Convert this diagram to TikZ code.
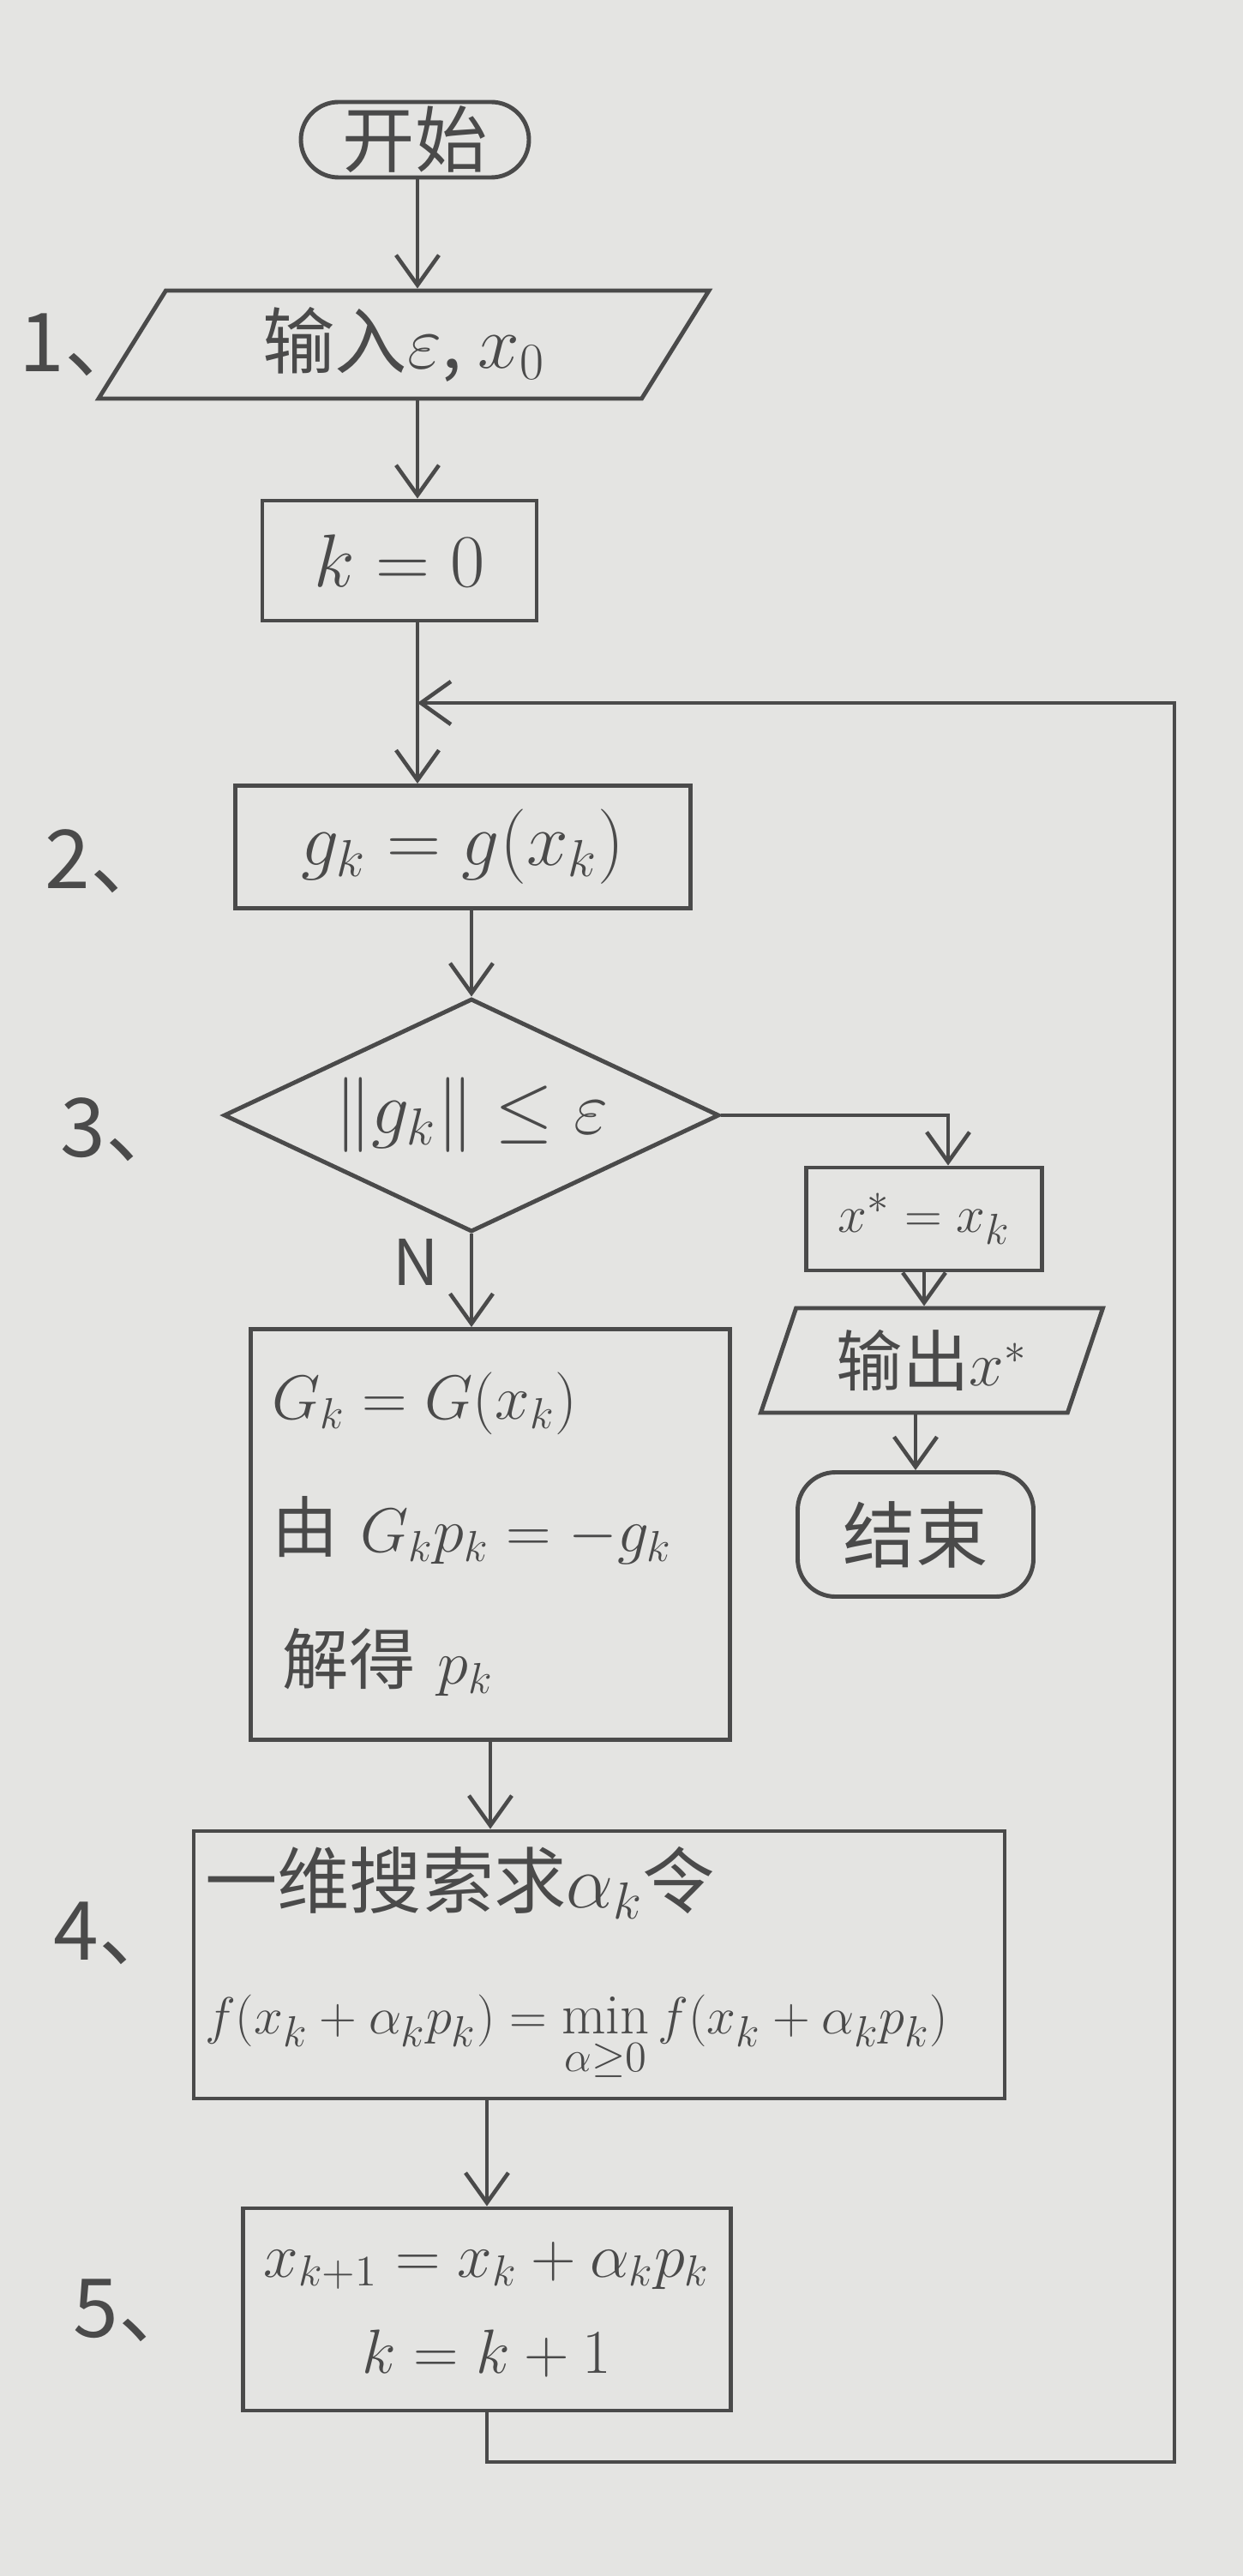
\documentclass[tikz,border=0pt]{standalone}
\usepackage{amsmath,amssymb}
\usepackage{fontspec}
\newfontfamily\cjk{Noto Sans CJK SC}
\usepackage{xcolor}
\usetikzlibrary{arrows.meta, positioning, calc, shapes.geometric}
\definecolor{Paper}{HTML}{E4E4E2}
\definecolor{Pencil}{HTML}{4A4A4A}

\begin{document}
\begin{tikzpicture}[
    x=1cm,
    y=1cm,
    font=\cjk\fontsize{24}{30}\selectfont,
    >={Straight Barb[length=3.5mm,width=5mm]},
    every node/.style={text=Pencil},
    termbox/.style={draw=Pencil, line width=1.4pt, rounded corners=0.44cm, inner sep=0pt, align=center},
    iobox/.style={trapezium, trapezium left angle=48, trapezium right angle=132, trapezium stretches body, draw=Pencil, line width=1.4pt, inner sep=0pt, align=center},
    stepbox/.style={rectangle, draw=Pencil, line width=1.4pt, inner sep=0pt},
    decbox/.style={diamond, aspect=2.1, draw=Pencil, line width=1.4pt, inner sep=0pt, align=center},
    arrowline/.style={->, draw=Pencil, line width=1.3pt},
    steplabel/.style={font=\cjk\fontsize{27}{30}\selectfont, anchor=west, inner sep=0pt}
]

\fill[Paper] (0,0) rectangle (14.5,-30.05);
\useasboundingbox (0,0) rectangle (14.5,-30.05);

% main column
\node[termbox, minimum width=2.66cm, minimum height=0.88cm] (start) at (4.84,-1.63) {开始};

\node[iobox, minimum width=7.12cm, minimum height=1.26cm] (input) at (4.71,-4.02)
{输入$\varepsilon$, $x_0$};

\node[stepbox, minimum width=3.2cm, minimum height=1.4cm] (init) at (4.66,-6.54) {$k = 0$};

\node[stepbox, minimum width=5.31cm, minimum height=1.43cm] (grad) at (5.40,-9.88)
{$g_k = g(x_k)$};

\node[decbox, minimum width=5.78cm, minimum height=2.72cm] (test) at (5.50,-13.01)
{$\|g_k\| \le \varepsilon$};

\node[stepbox, minimum width=5.59cm, minimum height=4.79cm, align=left, text width=5.1cm,
      font=\cjk\fontsize{22}{28}\selectfont] (newton) at (5.72,-17.90)
{\mbox{$G_k = G(x_k)$}\\[16pt]
\mbox{由 $G_k p_k = -g_k$}\\[16pt]
\mbox{\,解得 $p_k$}};

\node[stepbox, minimum width=9.46cm, minimum height=3.12cm, align=left, text width=9.2cm] (search) at (6.99,-22.92)
{一维搜索求$\alpha_k$令\\[12pt]
\mbox{\fontsize{19}{24}\selectfont $f(x_k+\alpha_k p_k)=\min\limits_{\alpha\ge 0} f(x_k+\alpha_k p_k)$}};

\node[stepbox, minimum width=5.69cm, minimum height=2.36cm, align=center,
      font=\cjk\fontsize{20}{26}\selectfont] (update) at (5.68,-26.94)
{$x_{k+1} = x_k + \alpha_k p_k$\\[6pt]
$k = k+1$};

% exit branch
\node[stepbox, minimum width=2.75cm, minimum height=1.2cm, font=\cjk\fontsize{19}{24}\selectfont] (setx) at (10.78,-14.22)
{$x^* = x_k$};

\node[iobox, trapezium left angle=60, trapezium right angle=120, minimum width=3.99cm, minimum height=1.22cm,
      font=\cjk\fontsize{22}{28}\selectfont] (output) at (10.87,-15.87)
{输出$x^*$};

\node[termbox, minimum width=2.75cm, minimum height=1.45cm] (stop) at (10.68,-17.90) {结束};

% step numbers
\node[steplabel] (l1) at (0.22,-4.02) {1、};
\node[steplabel] (l2) at (0.52,-10.05) {2、};
\node[steplabel] (l3) at (0.70,-13.18) {3、};
\node[steplabel] (l4) at (0.62,-22.55) {4、};
\node[steplabel] (l5) at (0.85,-26.95) {5、};

\node[font=\cjk\fontsize{21}{24}\selectfont] (no) at (4.85,-14.72) {N};

\coordinate (col) at (4.87,0);
\coordinate (join) at (4.87,-8.2);
\coordinate (loopR) at (13.70,-28.72);

\draw[arrowline] (col |- start.south) -- (col |- input.north);
\draw[arrowline] (col |- input.south) -- (col |- init.north);
\draw[arrowline] (col |- init.south) -- (col |- grad.north);
\draw[arrowline] (test.north |- grad.south) -- (test.north);
\draw[arrowline] (test.south) -- (test.south |- newton.north);
\draw[arrowline] (newton.south) -- (newton.south |- search.north);
\draw[arrowline] (update.north |- search.south) -- (update.north);
\draw[arrowline] (update.south) |- (loopR) |- (join);

\draw[arrowline] (test.east) -| ([xshift=0.28cm]setx.north);
\draw[arrowline] (setx.south) -- (setx.south |- output.north);
\draw[arrowline] (stop.north |- output.south) -- (stop.north);

\end{tikzpicture}
\end{document}
